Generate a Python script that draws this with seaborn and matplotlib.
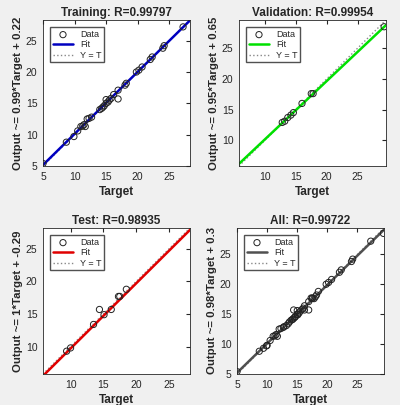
import matplotlib
matplotlib.use("Agg")
import matplotlib.pyplot as plt
import seaborn as sns
import numpy as np

sns.set_style("white")
plt.rcParams['font.family'] = ['Arial', 'Liberation Sans', 'DejaVu Sans']

train_t = [5,8.7,9.9,10.5,11,11.3,11.5,11.7,12,12.3,12.7,14,14.3,14.5,14.7,15,15,15.3,15.5,15.8,16.2,16.9,16.9,18,18.2,19.8,20.2,20.7,22,22.3,24,24.2,27.2]
train_o = [5.4,8.8,9.7,10.6,11.3,11.4,11.6,11.3,12.5,12.6,12.8,14,14.2,14.4,14.6,15.6,15,15.2,15.5,15.8,16.4,15.7,17.1,17.9,18.2,20,20.3,20.8,22,22.4,23.8,24.2,27.2]
val_t = [12.8,13.2,13.7,14.2,14.6,16,17.5,17.8,29.3]
val_o = [12.9,13.1,13.7,14.1,14.5,16,17.6,17.6,28.5]
test_t = [9.4,10,13.5,14.4,15.1,16.2,17.3,17.5,18.5]
test_o = [9.3,9.8,13.4,15.7,14.9,15.7,17.7,17.7,18.8]
all_t = train_t + val_t + test_t
all_o = train_o + val_o + test_o

titles = ["Training: R=0.99797", "Validation: R=0.99954", "Test: R=0.98935", "All: R=0.99722"]
ylabels = ["Output ~= 0.99*Target + 0.22", "Output ~= 0.95*Target + 0.65",
           "Output ~= 1*Target + -0.29", "Output ~= 0.98*Target + 0.3"]
slopes = [0.99, 0.95, 1.0, 0.98]
intercepts = [0.22, 0.65, -0.29, 0.3]
colors = ["#0000c0", "#00e000", "#e00000", "#505050"]
limits = [(5, 28.3), (5.8, 29.6), (5.8, 28.2), (5, 29.4)]
datasets = [(train_t, train_o), (val_t, val_o), (test_t, test_o), (all_t, all_o)]
rects = [(43, 20), (239, 20), (43, 228), (237, 228)]

W, H = 400, 405
fig = plt.figure(figsize=(W/100, H/100), dpi=100, facecolor="#f0f0f0")
for i in range(4):
    x0, y0 = rects[i]
    ax = fig.add_axes([x0/W, 1-(y0+146)/H, 147/W, 146/H])
    lo, hi = limits[i]
    xs = np.array([lo, hi])
    t, o = datasets[i]
    sns.scatterplot(x=t, y=o, ax=ax, marker='o', s=20, facecolors='none',
                    edgecolor='#222222', linewidth=0.7, label='Data', zorder=3)
    ax.plot(xs, slopes[i]*xs + intercepts[i], color=colors[i], lw=1.8, label='Fit', zorder=2)
    ax.plot(xs, xs, ':', color='#888888', lw=1, label='Y = T', zorder=1)
    ax.set_xlim(lo, hi); ax.set_ylim(lo, hi)
    ax.set_xticks([v for v in [5,10,15,20,25] if v >= lo])
    ax.set_yticks([v for v in [5,10,15,20,25] if v >= lo])
    ax.tick_params(labelsize=7.5, length=3, direction='in', colors='#262626',
                   top=True, right=True, pad=4)
    ax.set_title(titles[i], fontsize=8.5, fontweight='bold', pad=3)
    ax.set_xlabel("Target", fontsize=8.5, fontweight='bold', labelpad=3)
    ax.set_ylabel(ylabels[i], fontsize=8.2, fontweight='bold', labelpad=2)
    for s in ax.spines.values():
        s.set_color('#262626'); s.set_linewidth(0.6)
    ax.legend(loc='upper left', fontsize=6.5, frameon=True, fancybox=False,
              edgecolor='#262626', borderpad=0.3, labelspacing=0.15, handlelength=2.2,
              bbox_to_anchor=(0.05, 0.95), borderaxespad=0)
fig.savefig("out.png", dpi=100, facecolor=fig.get_facecolor())
